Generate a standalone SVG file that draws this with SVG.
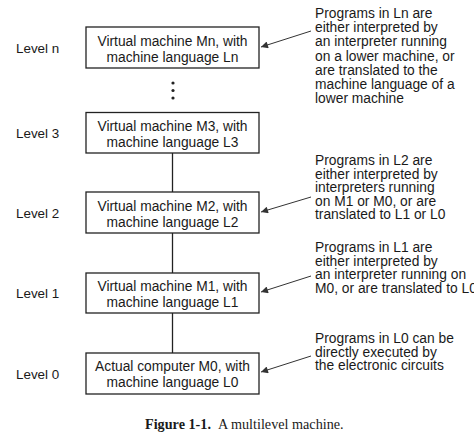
<svg xmlns="http://www.w3.org/2000/svg" width="474" height="445" viewBox="0 0 474 445">
<defs>
<style>
.box{fill:#fff;stroke:#222;stroke-width:1.3}
.t{font-family:"Liberation Sans",Arial,sans-serif;font-size:13.8px;fill:#1a1a1a}
.n{font-family:"Liberation Sans",Arial,sans-serif;font-size:13.8px;fill:#1a1a1a}
.bt{text-anchor:middle}
.lv{font-family:"Liberation Sans",Arial,sans-serif;font-size:13.4px;fill:#1a1a1a}
.ln{stroke:#222;stroke-width:1.3;fill:none}
.ar{stroke:#333;stroke-width:1;fill:none}
.cap{font-family:"Liberation Serif","Times New Roman",serif;font-size:14.2px;fill:#1a1a1a}
</style>
<marker id="ah" viewBox="0 0 10 10" refX="10" refY="5" markerWidth="9" markerHeight="7" markerUnits="userSpaceOnUse" orient="auto">
<path d="M0,0 L10,5 L0,10 z" fill="#333"/>
</marker>
</defs>
<rect width="474" height="445" fill="#fff"/>

<g id="connectors">
<line class="ln" x1="172.5" y1="153" x2="172.5" y2="192"/>
<line class="ln" x1="172.5" y1="233" x2="172.5" y2="273"/>
<line class="ln" x1="172.5" y1="313" x2="172.5" y2="353"/>
<line class="ar" x1="311" y1="31" x2="261" y2="47" marker-end="url(#ah)"/>
<line class="ar" x1="311" y1="197" x2="261" y2="212" marker-end="url(#ah)"/>
<line class="ar" x1="311" y1="276" x2="261" y2="292" marker-end="url(#ah)"/>
<line class="ar" x1="311" y1="356" x2="261" y2="372" marker-end="url(#ah)"/>
</g>

<g id="dots" fill="#222">
<circle cx="173" cy="83" r="1.6"/>
<circle cx="173" cy="90.5" r="1.6"/>
<circle cx="173" cy="98" r="1.6"/>
</g>

<g id="node-n">
<rect class="box" x="86" y="27" width="173" height="41"/>
<text class="t bt" x="172.5" y="45.5">Virtual machine Mn, with</text>
<text class="t bt" x="172.5" y="61.5">machine language Ln</text>
<text class="lv" x="16" y="52.5">Level n</text>
</g>

<g id="node-3">
<rect class="box" x="86" y="112.5" width="173" height="40.5"/>
<text class="t bt" x="172.5" y="130.5">Virtual machine M3, with</text>
<text class="t bt" x="172.5" y="146.5">machine language L3</text>
<text class="lv" x="16" y="138">Level 3</text>
</g>

<g id="node-2">
<rect class="box" x="86" y="192" width="173" height="41"/>
<text class="t bt" x="172.5" y="210.5">Virtual machine M2, with</text>
<text class="t bt" x="172.5" y="226.5">machine language L2</text>
<text class="lv" x="16" y="217.5">Level 2</text>
</g>

<g id="node-1">
<rect class="box" x="86" y="273" width="173" height="40"/>
<text class="t bt" x="172.5" y="290.5">Virtual machine M1, with</text>
<text class="t bt" x="172.5" y="306.5">machine language L1</text>
<text class="lv" x="16" y="298">Level 1</text>
</g>

<g id="node-0">
<rect class="box" x="86" y="353" width="173" height="41"/>
<text class="t bt" x="172.5" y="371">Actual computer M0, with</text>
<text class="t bt" x="172.5" y="387">machine language L0</text>
<text class="lv" x="16" y="378.5">Level 0</text>
</g>

<g id="note-n" class="n">
<text x="315" y="18">Programs in Ln are</text>
<text x="315" y="32.2">either interpreted by</text>
<text x="315" y="46.4">an interpreter running</text>
<text x="315" y="60.6">on a lower machine, or</text>
<text x="315" y="74.8">are translated to the</text>
<text x="315" y="89">machine language of a</text>
<text x="315" y="103.2">lower machine</text>
</g>

<g id="note-2" class="n">
<text x="315" y="165">Programs in L2 are</text>
<text x="315" y="178.6">either interpreted by</text>
<text x="315" y="192.2">interpreters running</text>
<text x="315" y="205.8">on M1 or M0, or are</text>
<text x="315" y="219.4">translated to L1 or L0</text>
</g>

<g id="note-1" class="n">
<text x="315" y="252">Programs in L1 are</text>
<text x="315" y="265.7">either interpreted by</text>
<text x="315" y="279.4">an interpreter running on</text>
<text x="315" y="293.1">M0, or are translated to L0</text>
</g>

<g id="note-0" class="n">
<text x="315" y="343">Programs in L0 can be</text>
<text x="315" y="356.7">directly executed by</text>
<text x="315" y="370.4">the electronic circuits</text>
</g>

<text class="cap" x="145" y="428.5"><tspan font-weight="bold">Figure 1-1.</tspan><tspan dx="7">A multilevel machine.</tspan></text>
</svg>
